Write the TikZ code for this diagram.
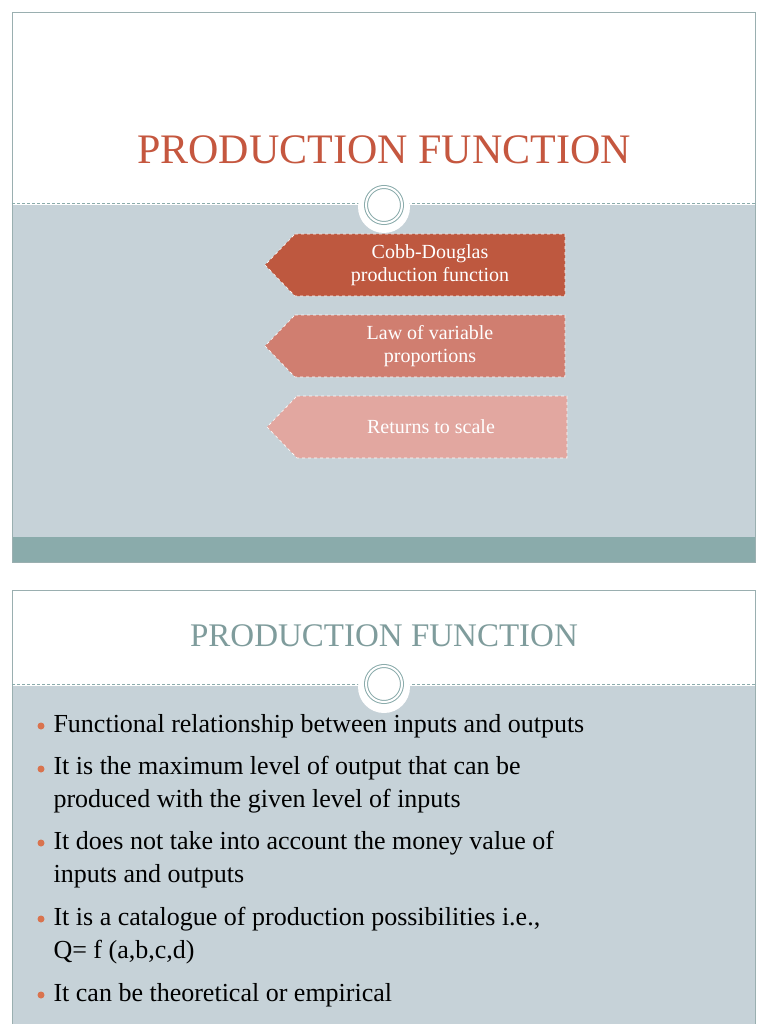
\documentclass[tikz,border=0pt]{standalone}
\usepackage{fontspec}
\setmainfont{Liberation Serif}
\definecolor{slidegray}{HTML}{C6D2D8}
\definecolor{teal}{HTML}{8AABAB}
\definecolor{frame}{HTML}{9AAFB0}
\definecolor{titlered}{HTML}{C5573F}
\definecolor{titleteal}{HTML}{7F9C9C}
\definecolor{boxa}{HTML}{BE583F}
\definecolor{boxb}{HTML}{D07E70}
\definecolor{boxc}{HTML}{E2A7A0}
\definecolor{bul}{HTML}{D9734E}
\begin{document}
\begin{tikzpicture}[x=1pt,y=-1pt,
  arrowbox/.style={draw=white,dashed,line width=0.6pt},
  btxt/.style={text=white,font=\fontsize{20}{23}\selectfont,align=center},
  btext/.style={anchor=west,font=\fontsize{26}{33}\selectfont,align=left,text=black},
  ring/.style={circle,draw=teal,line width=1pt,fill=white,minimum size=36pt,double=white,double distance=2pt}]
\useasboundingbox (0,0) rectangle (768,1024);
\fill[white] (0,0) rectangle (768,1024);
% slide 1
\fill[slidegray] (12,205) rectangle (755,537);
\fill[teal] (12,537) rectangle (755,562);
\draw[frame,line width=0.8pt] (12,12) rectangle (755,562);
\draw[teal,densely dashed,line width=0.5pt] (12,203) -- (755,203);
\node[text=titlered,font=\fontsize{42}{46}\selectfont] (t1) at (384,150) {PRODUCTION FUNCTION};
\fill[white] (384,207) circle (26);
\node[ring] (c1) at (384,205) {};
\fill[boxa] (295,234) -- (565,234) -- (565,296) -- (295,296) -- (265,265) -- cycle;
\draw[arrowbox] (295,234) -- (565,234) -- (565,296) -- (295,296) -- (265,265) -- cycle;
\node[btxt] (b1) at (430,265) {Cobb-Douglas\\production function};
\fill[boxb] (295,315) -- (565,315) -- (565,377) -- (295,377) -- (265,346) -- cycle;
\draw[arrowbox] (295,315) -- (565,315) -- (565,377) -- (295,377) -- (265,346) -- cycle;
\node[btxt] (b2) at (430,346) {Law of variable\\proportions};
\fill[boxc] (297,396) -- (567,396) -- (567,458) -- (297,458) -- (267,427) -- cycle;
\draw[arrowbox] (297,396) -- (567,396) -- (567,458) -- (297,458) -- (267,427) -- cycle;
\node[btxt] (b3) at (431,427) {Returns to scale};
% slide 2
\fill[slidegray] (12,686) rectangle (755,1024);
\draw[frame,line width=0.8pt] (12,1024) -- (12,590) -- (755,590) -- (755,1024);
\draw[teal,densely dashed,line width=0.5pt] (12,684) -- (755,684);
\node[text=titleteal,font=\fontsize{33}{36}\selectfont] (t2) at (384,636) {PRODUCTION FUNCTION};
\fill[white] (384,687) circle (26);
\node[ring] (c2) at (384,684) {};
\foreach \y/\t [count=\i] in {726/{Functional relationship between inputs and outputs},
  785/{It is the maximum level of output that can be\\produced with the given level of inputs},
  860/{It does not take into account the money value of\\inputs and outputs},
  936/{It is a catalogue of production possibilities i.e.,\\Q= f (a,b,c,d)},
  995/{It can be theoretical or empirical}}{
  \node[btext] (l\i) at (50,\y) {\t};
}
\foreach \y in {726,769,843,919,995} \fill[bul] (41,\y) circle (3.5);
\end{tikzpicture}
\end{document}
